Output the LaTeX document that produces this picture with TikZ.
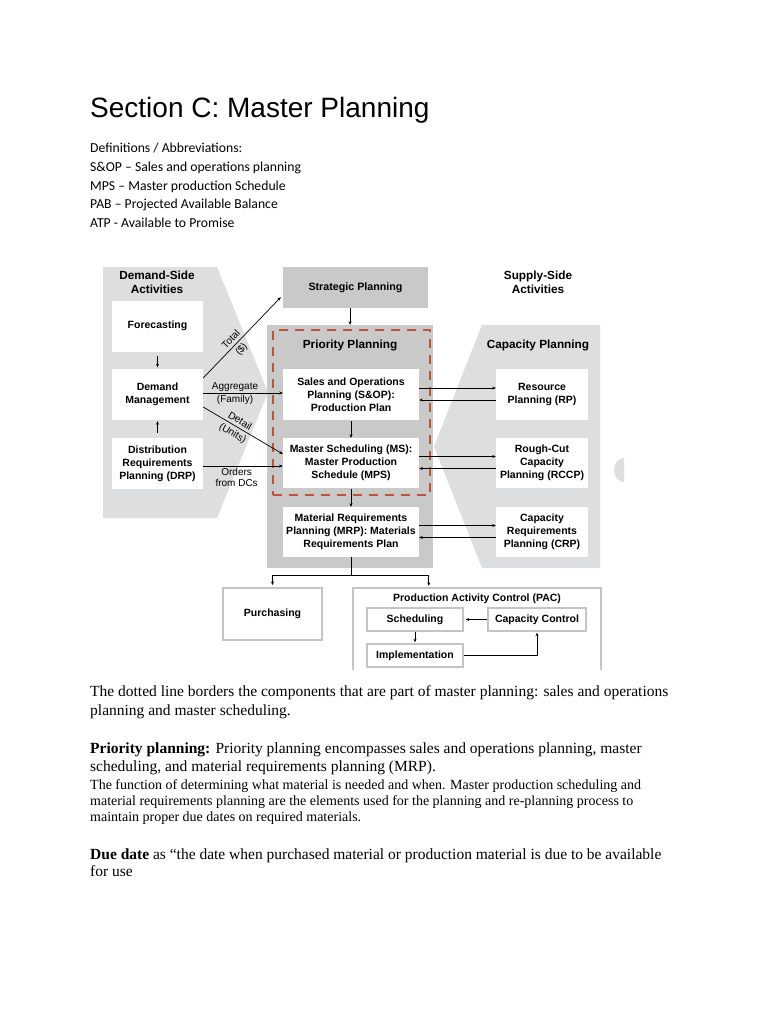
\documentclass[tikz,border=0pt]{standalone}
\usepackage{fontspec}
\setmainfont{Liberation Serif}
\newfontfamily\arialf{Liberation Sans}
\newfontfamily\calibf{Carlito}
\usepackage{xcolor}
\usetikzlibrary{arrows.meta,calc}
\definecolor{gA}{RGB}{221,222,223}
\definecolor{gB}{RGB}{201,201,201}
\definecolor{gL}{RGB}{196,196,196}
\definecolor{rD}{RGB}{192,82,58}
\tikzset{
    RA1/.style ={rectangle, fill=white, minimum width=91pt, minimum height=51pt, inner sep=1pt, align=center, font=\arialf\bfseries\fontsize{10.5}{13}\selectfont},
    RA2/.style ={RA1, draw=gL, line width=1.4pt, minimum height=23pt},
    TT/.style ={align=center, font=\arialf\bfseries\fontsize{11.8}{14}\selectfont},
    LB/.style ={align=center, inner sep=1.5pt, font=\arialf\fontsize{10}{11.5}\selectfont},
    AR/.style ={-{Stealth[length=3.5pt,width=3pt]}, line width=.7pt},
    SA/.style ={pos=.42,sloped,above,LB,inner sep=3pt},
    SB/.style ={pos=.42,sloped,below,LB,inner sep=3pt},
    BT/.style ={anchor=base west, inner sep=0pt, font=\fontsize{15.5}{19}\selectfont},
    ST/.style ={anchor=base west, inner sep=0pt, font=\fontsize{14}{16}\selectfont}
}
\begin{document}
\begin{tikzpicture}[x=1pt,y=-1pt]
        \useasboundingbox (0,0) rectangle (768,1024);
        \fill[white] (0,0) rectangle (768,1024);
        % heading and abbreviations
        \node[anchor=base west, inner sep=0pt, font=\arialf\fontsize{28}{34}\selectfont] (ttl) at (90,118) {Section C: Master Planning};
        \foreach \t [count=\i from 0] in {Definitions / Abbreviations:, S\&OP – Sales and operations planning, MPS – Master production Schedule, PAB – Projected Available Balance, ATP - Available to Promise}
            \node[anchor=base west, inner sep=0pt, font=\calibf\fontsize{13.7}{16}\selectfont] (df\i) at (90,153+18.6*\i) {\t};
        % gray backgrounds
        \fill[gA] (103,267) -- (217,267) -- (268,392.5) -- (217,518) -- (103,518) -- cycle;
        \fill[gA] (482,325) -- (600,325) -- (600,568) -- (482,568) -- (434,446.5) -- cycle;
        \fill[gA] (624,458) arc[start angle=270, end angle=90, x radius=10, y radius=12] -- cycle;
        \node[fill=gB, minimum width=166pt, minimum height=243pt] (pc) at (350,446.5) {};
        \node[fill=gB, minimum width=145pt, minimum height=41pt, font=\arialf\bfseries\fontsize{10.7}{13}\selectfont] (sp) at (355.5,287.5) {Strategic Planning};
        \node[draw=rD, line width=1.6pt, dash pattern=on 9pt off 7pt, minimum width=157pt, minimum height=165pt] (mp) at (351.5,412.5) {};
        % titles
        \node[TT] (dsa) at (157,282) {Demand-Side\\Activities};
        \node[TT] (ssa) at (538,282) {Supply-Side\\Activities};
        \node[TT] (ppt) at (350,345) {Priority Planning};
        \node[TT] (cpt) at (538,345) {Capacity Planning};
        % boxes
        \node[RA1] (fc)  at (157.5,326)   {Forecasting};
        \node[RA1] (dm)  at (157.5,394.5) {Demand\\Management};
        \node[RA1] (drp) at (157.5,463.5) {Distribution\\Requirements\\Planning (DRP)};
        \node[RA1, minimum width=136pt, minimum height=51pt] (sop) at (351,394.5) {Sales and Operations\\Planning (S\&OP):\\Production Plan};
        \node[RA1, minimum width=136pt, minimum height=50pt] (ms)  at (351,463)   {Master Scheduling (MS):\\Master Production\\Schedule (MPS)};
        \node[RA1, minimum width=136pt, minimum height=50pt] (mrp) at (351,532)   {Material Requirements\\Planning (MRP): Materials\\Requirements Plan};
        \node[RA1, minimum width=92pt] (rp)   at (542,394.5) {Resource\\Planning (RP)};
        \node[RA1, minimum width=92pt, minimum height=50pt] (rccp) at (542,463) {Rough-Cut\\Capacity\\Planning (RCCP)};
        \node[RA1, minimum width=92pt, minimum height=50pt] (crp)  at (542,532) {Capacity\\Requirements\\Planning (CRP)};
        \node[RA2, line width=2pt, minimum width=99pt, minimum height=52pt] (pur) at (272.5,614) {Purchasing};
        \node[minimum width=248pt, minimum height=82pt] (pac) at (477,629) {};
        \draw[gL, line width=2pt] (pac.south west) -- (pac.north west) -- (pac.north east) -- (pac.south east);
        \node[RA1, fill=none, inner sep=0pt] (pact) at (477,599) {Production Activity Control (PAC)};
        \node[RA2, minimum width=96pt] (sch) at (415,619.5) {Scheduling};
        \node[RA2, minimum width=98pt] (cc)  at (537,619.5) {Capacity Control};
        \node[RA2, minimum width=96pt] (imp) at (415,655.5) {Implementation};
        % connectors
        \draw[AR, shorten <=4pt, shorten >=1.5pt] (fc) -- (dm);
        \draw[AR, shorten <=5pt, shorten >=1pt] (drp) -- (dm);
        \draw[AR] ([yshift=16.5pt]dm.east) -- ([xshift=-2pt,yshift=11pt]sp.south west) node[SA]{Total} node[SB]{(\$)};
        \draw[AR] ([yshift=1.5pt]dm.east) -- ([yshift=1.5pt]dm.east -| sop.west) node[pos=.4,above,LB]{Aggregate} node[pos=.4,below,LB]{(Family)};
        \draw[AR] ([yshift=-12.5pt]dm.east) -- ([yshift=9pt]ms.west) node[SA]{Detail} node[SB]{(Units)};
        \draw[AR] ([yshift=-2.5pt]drp.east) -- ([yshift=-2.5pt]drp.east -| ms.west) node[pos=.42,below,LB]{Orders\\from DCs};
        \draw[AR] (sp.south -| pc.north) -- (pc.north);
        \draw[AR, shorten <=1pt] (sop) -- (ms);
        \draw[AR, shorten <=1pt] (ms) -- (mrp);
        \foreach \a/\b in {sop/rp, ms/rccp, mrp/crp}{
            \draw[AR] ([yshift=6.5pt]\a.east) -- ([yshift=6.5pt]\a.east -| \b.west);
            \draw[AR] ([yshift=-5.5pt]\b.west) -- ([yshift=-5.5pt]\b.west -| \a.east);}
        \draw[line width=.7pt] (mrp.south) -- ++(0,18) coordinate (jn);
        \draw[AR, shorten >=2pt] (jn) -| (pur.north);
        \draw[AR, shorten >=2pt] (jn) -| ([xshift=76pt]pac.north west);
        \draw[AR, shorten >=2pt] (cc) -- (sch);
        \draw[AR, shorten >=1pt] (sch) -- (imp);
        \draw[AR, shorten >=1pt] (imp.east) -| (cc.south);
        % body text
        \node[BT] (b1) at (90,696.5) {The dotted line borders the components that are part of master planning: sales and operations};
        \node[BT] (b2) at (90,715.5) {planning and master scheduling.};
        \node[BT] (b3) at (90,753.5) {\textbf{Priority planning:} Priority planning encompasses sales and operations planning, master};
        \node[BT] (b4) at (90,771.5) {scheduling, and material requirements planning (MRP).};
        \node[ST] (b5) at (90,789)   {The function of determining what material is needed and when. Master production scheduling and};
        \node[ST] (b6) at (90,805.5) {material requirements planning are the elements used for the planning and re-planning process to};
        \node[ST] (b7) at (90,821.5) {maintain proper due dates on required materials.};
        \node[BT] (b8) at (90,859.5) {\textbf{Due date} as “the date when purchased material or production material is due to be available};
        \node[BT] (b9) at (90,876.5) {for use};
\end{tikzpicture}
\end{document}
